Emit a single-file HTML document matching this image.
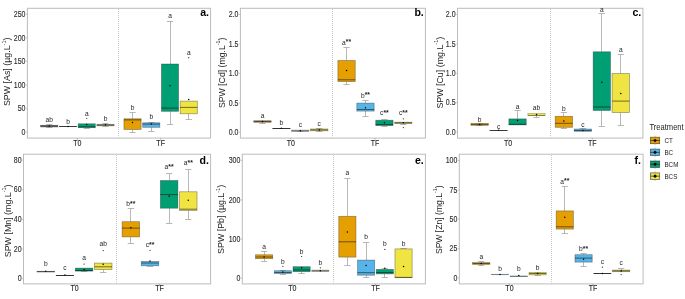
<!DOCTYPE html><html><head><meta charset="utf-8"><title>SPW boxplots</title><style>html,body{margin:0;padding:0;background:#fff;}svg{display:block;}text{font-family:"Liberation Sans", Arial, sans-serif;}</style></head><body>
<svg width="685" height="299" viewBox="0 0 685 299">
<rect x="0" y="0" width="685" height="299" fill="#fff"/>
<rect x="27.4" y="8.3" width="183.2" height="129.8" fill="none" stroke="#bcbcbc" stroke-width="1"/>
<line x1="118.5" y1="9" x2="118.5" y2="138.1" stroke="#c6c6c6" stroke-width="1" stroke-dasharray="1 1"/>
<line x1="49.5" y1="124.5" x2="49.5" y2="125.3" stroke="#a6a6a6" stroke-width="0.8"/>
<line x1="46.14" y1="124.5" x2="52.38" y2="124.5" stroke="#a6a6a6" stroke-width="0.8"/>
<line x1="49.5" y1="126.9" x2="49.5" y2="127.5" stroke="#a6a6a6" stroke-width="0.8"/>
<line x1="46.14" y1="127.5" x2="52.38" y2="127.5" stroke="#a6a6a6" stroke-width="0.8"/>
<rect x="40.68" y="125.3" width="17.15" height="1.6" fill="#8a8a8a" stroke="rgba(60,60,60,0.7)" stroke-width="0.7"/>
<line x1="40.68" y1="126.1" x2="57.84" y2="126.1" stroke="rgba(40,40,40,0.7)" stroke-width="1"/>
<circle cx="49.26" cy="126" r="0.75" fill="#000"/>
<text transform="translate(49.26,122.2) scale(0.95,1.09)" font-size="7" fill="#1c1c1c" text-anchor="middle">ab</text>
<line x1="59.12" y1="126.5" x2="76.87" y2="126.5" stroke="#3a3a3a" stroke-width="1"/>
<circle cx="68" cy="126.4" r="0.75" fill="#000"/>
<text transform="translate(68,123.6) scale(0.95,1.09)" font-size="7" fill="#1c1c1c" text-anchor="middle">b</text>
<line x1="86.5" y1="127.7" x2="86.5" y2="128.5" stroke="#a6a6a6" stroke-width="0.8"/>
<line x1="83.61" y1="128.5" x2="89.85" y2="128.5" stroke="#a6a6a6" stroke-width="0.8"/>
<rect x="78.15" y="123.8" width="17.15" height="3.9" fill="#009E73" stroke="rgba(45,45,45,0.5)" stroke-width="0.7"/>
<line x1="78.15" y1="126.8" x2="95.31" y2="126.8" stroke="rgba(20,20,20,0.58)" stroke-width="1"/>
<circle cx="86.73" cy="124.6" r="0.75" fill="#000"/>
<circle cx="86.73" cy="118.5" r="0.6" fill="#222"/>
<text transform="translate(86.73,115.9) scale(0.95,1.09)" font-size="7" fill="#1c1c1c" text-anchor="middle">a</text>
<line x1="105.5" y1="123.5" x2="105.5" y2="124.3" stroke="#a6a6a6" stroke-width="0.8"/>
<line x1="102.35" y1="123.5" x2="108.59" y2="123.5" stroke="#a6a6a6" stroke-width="0.8"/>
<line x1="105.5" y1="125.8" x2="105.5" y2="126.5" stroke="#a6a6a6" stroke-width="0.8"/>
<line x1="102.35" y1="126.5" x2="108.59" y2="126.5" stroke="#a6a6a6" stroke-width="0.8"/>
<rect x="96.89" y="124.3" width="17.15" height="1.5" fill="#c4bb80" stroke="rgba(60,60,60,0.55)" stroke-width="0.7"/>
<line x1="96.89" y1="125.1" x2="114.05" y2="125.1" stroke="rgba(20,20,20,0.58)" stroke-width="1"/>
<circle cx="105.47" cy="124.7" r="0.75" fill="#000"/>
<text transform="translate(105.47,120.6) scale(0.95,1.09)" font-size="7" fill="#1c1c1c" text-anchor="middle">b</text>
<line x1="132.5" y1="112.5" x2="132.5" y2="118.8" stroke="#a6a6a6" stroke-width="0.8"/>
<line x1="129.41" y1="112.5" x2="135.65" y2="112.5" stroke="#a6a6a6" stroke-width="0.8"/>
<line x1="132.5" y1="129.5" x2="132.5" y2="132.5" stroke="#a6a6a6" stroke-width="0.8"/>
<line x1="129.41" y1="132.5" x2="135.65" y2="132.5" stroke="#a6a6a6" stroke-width="0.8"/>
<rect x="123.95" y="118.8" width="17.15" height="10.7" fill="#E69F00" stroke="rgba(45,45,45,0.5)" stroke-width="0.7"/>
<line x1="123.95" y1="119.9" x2="141.11" y2="119.9" stroke="rgba(20,20,20,0.58)" stroke-width="1"/>
<circle cx="132.53" cy="122.5" r="0.75" fill="#000"/>
<text transform="translate(132.53,110.1) scale(0.95,1.09)" font-size="7" fill="#1c1c1c" text-anchor="middle">b</text>
<line x1="151.5" y1="122.5" x2="151.5" y2="122.8" stroke="#a6a6a6" stroke-width="0.8"/>
<line x1="148.15" y1="122.5" x2="154.39" y2="122.5" stroke="#a6a6a6" stroke-width="0.8"/>
<line x1="151.5" y1="127.3" x2="151.5" y2="131.5" stroke="#a6a6a6" stroke-width="0.8"/>
<line x1="148.15" y1="131.5" x2="154.39" y2="131.5" stroke="#a6a6a6" stroke-width="0.8"/>
<rect x="142.69" y="122.8" width="17.15" height="4.5" fill="#56B4E9" stroke="rgba(45,45,45,0.5)" stroke-width="0.7"/>
<line x1="142.69" y1="124.1" x2="159.85" y2="124.1" stroke="rgba(20,20,20,0.58)" stroke-width="1"/>
<circle cx="151.27" cy="124" r="0.75" fill="#000"/>
<text transform="translate(151.27,119.4) scale(0.95,1.09)" font-size="7" fill="#1c1c1c" text-anchor="middle">b</text>
<line x1="170.5" y1="21.5" x2="170.5" y2="64" stroke="#a6a6a6" stroke-width="0.8"/>
<line x1="166.88" y1="21.5" x2="173.13" y2="21.5" stroke="#a6a6a6" stroke-width="0.8"/>
<line x1="170.5" y1="111.3" x2="170.5" y2="124.5" stroke="#a6a6a6" stroke-width="0.8"/>
<line x1="166.88" y1="124.5" x2="173.13" y2="124.5" stroke="#a6a6a6" stroke-width="0.8"/>
<rect x="161.43" y="64" width="17.15" height="47.3" fill="#009E73" stroke="rgba(45,45,45,0.5)" stroke-width="0.7"/>
<line x1="161.43" y1="108.1" x2="178.58" y2="108.1" stroke="rgba(20,20,20,0.58)" stroke-width="1"/>
<circle cx="170" cy="85.7" r="0.75" fill="#000"/>
<text transform="translate(170,18.1) scale(0.95,1.09)" font-size="7" fill="#1c1c1c" text-anchor="middle">a</text>
<line x1="188.5" y1="113.8" x2="188.5" y2="119.5" stroke="#a6a6a6" stroke-width="0.8"/>
<line x1="185.62" y1="119.5" x2="191.86" y2="119.5" stroke="#a6a6a6" stroke-width="0.8"/>
<rect x="180.16" y="101.1" width="17.15" height="12.7" fill="#F0E442" stroke="rgba(45,45,45,0.5)" stroke-width="0.7"/>
<line x1="180.16" y1="107.4" x2="197.32" y2="107.4" stroke="rgba(20,20,20,0.58)" stroke-width="1"/>
<circle cx="188.74" cy="99.4" r="0.75" fill="#000"/>
<circle cx="188.74" cy="57.7" r="0.6" fill="#222"/>
<text transform="translate(188.74,54.6) scale(0.95,1.09)" font-size="7" fill="#1c1c1c" text-anchor="middle">a</text>
<line x1="26.1" y1="132.3" x2="27.4" y2="132.3" stroke="#a8a8a8" stroke-width="0.6"/>
<text transform="translate(25.5,134.9) scale(0.95,1.13)" font-size="7.4" fill="#2a2a2a" text-anchor="end" stroke="#2a2a2a" stroke-width="0.1">0</text>
<line x1="26.1" y1="108.7" x2="27.4" y2="108.7" stroke="#a8a8a8" stroke-width="0.6"/>
<text transform="translate(25.5,111.3) scale(0.95,1.13)" font-size="7.4" fill="#2a2a2a" text-anchor="end" stroke="#2a2a2a" stroke-width="0.1">50</text>
<line x1="26.1" y1="85.1" x2="27.4" y2="85.1" stroke="#a8a8a8" stroke-width="0.6"/>
<text transform="translate(25.5,87.7) scale(0.95,1.13)" font-size="7.4" fill="#2a2a2a" text-anchor="end" stroke="#2a2a2a" stroke-width="0.1">100</text>
<line x1="26.1" y1="61.5" x2="27.4" y2="61.5" stroke="#a8a8a8" stroke-width="0.6"/>
<text transform="translate(25.5,64.1) scale(0.95,1.13)" font-size="7.4" fill="#2a2a2a" text-anchor="end" stroke="#2a2a2a" stroke-width="0.1">150</text>
<line x1="26.1" y1="37.9" x2="27.4" y2="37.9" stroke="#a8a8a8" stroke-width="0.6"/>
<text transform="translate(25.5,40.5) scale(0.95,1.13)" font-size="7.4" fill="#2a2a2a" text-anchor="end" stroke="#2a2a2a" stroke-width="0.1">200</text>
<line x1="26.1" y1="14.3" x2="27.4" y2="14.3" stroke="#a8a8a8" stroke-width="0.6"/>
<text transform="translate(25.5,16.9) scale(0.95,1.13)" font-size="7.4" fill="#2a2a2a" text-anchor="end" stroke="#2a2a2a" stroke-width="0.1">250</text>
<line x1="77.36" y1="138.1" x2="77.36" y2="139.6" stroke="#8a8a8a" stroke-width="0.6"/>
<text transform="translate(77.36,145.6) scale(0.95,1.13)" font-size="7.4" fill="#1c1c1c" text-anchor="middle" stroke="#2a2a2a" stroke-width="0.1">T0</text>
<line x1="160.64" y1="138.1" x2="160.64" y2="139.6" stroke="#8a8a8a" stroke-width="0.6"/>
<text transform="translate(160.64,145.6) scale(0.95,1.13)" font-size="7.4" fill="#1c1c1c" text-anchor="middle" stroke="#2a2a2a" stroke-width="0.1">TF</text>
<text x="209" y="16.4" font-size="10.6" font-weight="bold" fill="#000" text-anchor="end">a.</text>
<text transform="translate(10.3,106.1) rotate(-90) scale(1.02,1)" font-size="8.7" fill="#1c1c1c">SPW [As] (µg.L<tspan font-size="5.4" dy="-4.6">-1</tspan><tspan dy="4.6">)</tspan></text>
<rect x="240.4" y="8.3" width="185" height="129.8" fill="none" stroke="#bcbcbc" stroke-width="1"/>
<line x1="332.5" y1="9" x2="332.5" y2="138.1" stroke="#c6c6c6" stroke-width="1" stroke-dasharray="1 1"/>
<line x1="262.5" y1="122.3" x2="262.5" y2="123.5" stroke="#a6a6a6" stroke-width="0.8"/>
<line x1="259.32" y1="123.5" x2="265.63" y2="123.5" stroke="#a6a6a6" stroke-width="0.8"/>
<rect x="253.81" y="120.7" width="17.32" height="1.6" fill="#c89a3a" stroke="rgba(45,45,45,0.5)" stroke-width="0.7"/>
<line x1="253.81" y1="121.5" x2="271.14" y2="121.5" stroke="rgba(20,20,20,0.58)" stroke-width="1"/>
<circle cx="262.47" cy="121.5" r="0.75" fill="#000"/>
<text transform="translate(262.47,117.8) scale(0.95,1.09)" font-size="7" fill="#1c1c1c" text-anchor="middle">a</text>
<line x1="272.43" y1="128.5" x2="290.36" y2="128.5" stroke="#333" stroke-width="1"/>
<circle cx="281.39" cy="128.3" r="0.75" fill="#000"/>
<text transform="translate(281.39,125) scale(0.95,1.09)" font-size="7" fill="#1c1c1c" text-anchor="middle">b</text>
<line x1="300.5" y1="131.4" x2="300.5" y2="131.5" stroke="#a6a6a6" stroke-width="0.8"/>
<line x1="297.16" y1="131.5" x2="303.47" y2="131.5" stroke="#a6a6a6" stroke-width="0.8"/>
<rect x="291.65" y="130.1" width="17.32" height="1.3" fill="#b4b4b4" stroke="rgba(90,90,90,0.5)" stroke-width="0.7"/>
<line x1="291.65" y1="130.8" x2="308.98" y2="130.8" stroke="rgba(60,60,60,0.5)" stroke-width="1"/>
<circle cx="300.31" cy="130.8" r="0.75" fill="#000"/>
<text transform="translate(300.31,126.7) scale(0.95,1.09)" font-size="7" fill="#1c1c1c" text-anchor="middle">c</text>
<line x1="319.5" y1="128.5" x2="319.5" y2="129" stroke="#a6a6a6" stroke-width="0.8"/>
<line x1="316.08" y1="128.5" x2="322.39" y2="128.5" stroke="#a6a6a6" stroke-width="0.8"/>
<line x1="319.5" y1="130.8" x2="319.5" y2="131.5" stroke="#a6a6a6" stroke-width="0.8"/>
<line x1="316.08" y1="131.5" x2="322.39" y2="131.5" stroke="#a6a6a6" stroke-width="0.8"/>
<rect x="310.57" y="129" width="17.32" height="1.8" fill="#F0E442" stroke="rgba(45,45,45,0.5)" stroke-width="0.7"/>
<line x1="310.57" y1="129.9" x2="327.9" y2="129.9" stroke="rgba(20,20,20,0.58)" stroke-width="1"/>
<circle cx="319.24" cy="129.9" r="0.75" fill="#000"/>
<text transform="translate(319.24,126) scale(0.95,1.09)" font-size="7" fill="#1c1c1c" text-anchor="middle">c</text>
<line x1="346.5" y1="47.5" x2="346.5" y2="60.5" stroke="#a6a6a6" stroke-width="0.8"/>
<line x1="343.41" y1="47.5" x2="349.72" y2="47.5" stroke="#a6a6a6" stroke-width="0.8"/>
<line x1="346.5" y1="81.6" x2="346.5" y2="84.5" stroke="#a6a6a6" stroke-width="0.8"/>
<line x1="343.41" y1="84.5" x2="349.72" y2="84.5" stroke="#a6a6a6" stroke-width="0.8"/>
<rect x="337.9" y="60.5" width="17.32" height="21.1" fill="#E69F00" stroke="rgba(45,45,45,0.5)" stroke-width="0.7"/>
<line x1="337.9" y1="79.8" x2="355.23" y2="79.8" stroke="rgba(20,20,20,0.58)" stroke-width="1"/>
<circle cx="346.56" cy="70.4" r="0.75" fill="#000"/>
<text transform="translate(346.56,44.5) scale(0.95,1.09)" font-size="7" fill="#1c1c1c" text-anchor="middle">a<tspan font-size="7.2" font-weight="bold" dy="-0.2">**</tspan></text>
<line x1="365.5" y1="100.5" x2="365.5" y2="103.1" stroke="#a6a6a6" stroke-width="0.8"/>
<line x1="362.33" y1="100.5" x2="368.64" y2="100.5" stroke="#a6a6a6" stroke-width="0.8"/>
<line x1="365.5" y1="111.1" x2="365.5" y2="116.5" stroke="#a6a6a6" stroke-width="0.8"/>
<line x1="362.33" y1="116.5" x2="368.64" y2="116.5" stroke="#a6a6a6" stroke-width="0.8"/>
<rect x="356.82" y="103.1" width="17.32" height="8" fill="#56B4E9" stroke="rgba(45,45,45,0.5)" stroke-width="0.7"/>
<line x1="356.82" y1="109.5" x2="374.15" y2="109.5" stroke="rgba(20,20,20,0.58)" stroke-width="1"/>
<circle cx="365.49" cy="107.7" r="0.75" fill="#000"/>
<text transform="translate(365.49,97.6) scale(0.95,1.09)" font-size="7" fill="#1c1c1c" text-anchor="middle">b<tspan font-size="7.2" font-weight="bold" dy="-0.2">**</tspan></text>
<line x1="384.5" y1="119.5" x2="384.5" y2="120.2" stroke="#a6a6a6" stroke-width="0.8"/>
<line x1="381.25" y1="119.5" x2="387.56" y2="119.5" stroke="#a6a6a6" stroke-width="0.8"/>
<line x1="384.5" y1="125.6" x2="384.5" y2="126.5" stroke="#a6a6a6" stroke-width="0.8"/>
<line x1="381.25" y1="126.5" x2="387.56" y2="126.5" stroke="#a6a6a6" stroke-width="0.8"/>
<rect x="375.74" y="120.2" width="17.32" height="5.4" fill="#009E73" stroke="rgba(45,45,45,0.5)" stroke-width="0.7"/>
<line x1="375.74" y1="124.6" x2="393.07" y2="124.6" stroke="rgba(20,20,20,0.58)" stroke-width="1"/>
<circle cx="384.41" cy="122.8" r="0.75" fill="#000"/>
<text transform="translate(384.41,114.9) scale(0.95,1.09)" font-size="7" fill="#1c1c1c" text-anchor="middle">c<tspan font-size="7.2" font-weight="bold" dy="-0.2">**</tspan></text>
<line x1="403.5" y1="123.6" x2="403.5" y2="124.5" stroke="#a6a6a6" stroke-width="0.8"/>
<line x1="400.17" y1="124.5" x2="406.48" y2="124.5" stroke="#a6a6a6" stroke-width="0.8"/>
<rect x="394.66" y="122.2" width="17.32" height="1.4" fill="#F0E442" stroke="rgba(45,45,45,0.5)" stroke-width="0.7"/>
<line x1="394.66" y1="122.8" x2="411.99" y2="122.8" stroke="rgba(20,20,20,0.58)" stroke-width="1"/>
<circle cx="403.33" cy="122.8" r="0.75" fill="#000"/>
<circle cx="403.33" cy="118.8" r="0.6" fill="#222"/>
<circle cx="403.33" cy="127.6" r="0.6" fill="#222"/>
<text transform="translate(403.33,115.3) scale(0.95,1.09)" font-size="7" fill="#1c1c1c" text-anchor="middle">c<tspan font-size="7.2" font-weight="bold" dy="-0.2">**</tspan></text>
<line x1="239.1" y1="132.3" x2="240.4" y2="132.3" stroke="#a8a8a8" stroke-width="0.6"/>
<text transform="translate(238.5,134.9) scale(0.95,1.13)" font-size="7.4" fill="#2a2a2a" text-anchor="end" stroke="#2a2a2a" stroke-width="0.1">0.0</text>
<line x1="239.1" y1="102.9" x2="240.4" y2="102.9" stroke="#a8a8a8" stroke-width="0.6"/>
<text transform="translate(238.5,105.5) scale(0.95,1.13)" font-size="7.4" fill="#2a2a2a" text-anchor="end" stroke="#2a2a2a" stroke-width="0.1">0.5</text>
<line x1="239.1" y1="73.4" x2="240.4" y2="73.4" stroke="#a8a8a8" stroke-width="0.6"/>
<text transform="translate(238.5,76) scale(0.95,1.13)" font-size="7.4" fill="#2a2a2a" text-anchor="end" stroke="#2a2a2a" stroke-width="0.1">1.0</text>
<line x1="239.1" y1="44" x2="240.4" y2="44" stroke="#a8a8a8" stroke-width="0.6"/>
<text transform="translate(238.5,46.6) scale(0.95,1.13)" font-size="7.4" fill="#2a2a2a" text-anchor="end" stroke="#2a2a2a" stroke-width="0.1">1.5</text>
<line x1="239.1" y1="14.5" x2="240.4" y2="14.5" stroke="#a8a8a8" stroke-width="0.6"/>
<text transform="translate(238.5,17.1) scale(0.95,1.13)" font-size="7.4" fill="#2a2a2a" text-anchor="end" stroke="#2a2a2a" stroke-width="0.1">2.0</text>
<line x1="290.85" y1="138.1" x2="290.85" y2="139.6" stroke="#8a8a8a" stroke-width="0.6"/>
<text transform="translate(290.85,145.6) scale(0.95,1.13)" font-size="7.4" fill="#1c1c1c" text-anchor="middle" stroke="#2a2a2a" stroke-width="0.1">T0</text>
<line x1="374.95" y1="138.1" x2="374.95" y2="139.6" stroke="#8a8a8a" stroke-width="0.6"/>
<text transform="translate(374.95,145.6) scale(0.95,1.13)" font-size="7.4" fill="#1c1c1c" text-anchor="middle" stroke="#2a2a2a" stroke-width="0.1">TF</text>
<text x="423.8" y="16.4" font-size="10.6" font-weight="bold" fill="#000" text-anchor="end">b.</text>
<text transform="translate(224.6,108) rotate(-90) scale(1,1)" font-size="8.7" fill="#1c1c1c">SPW [Cd] (mg.L<tspan font-size="5.4" dy="-4.6">-1</tspan><tspan dy="4.6">)</tspan></text>
<rect x="457.5" y="8.3" width="185.4" height="129.8" fill="none" stroke="#bcbcbc" stroke-width="1"/>
<line x1="550.5" y1="9" x2="550.5" y2="138.1" stroke="#c6c6c6" stroke-width="1" stroke-dasharray="1 1"/>
<line x1="479.5" y1="123.5" x2="479.5" y2="123.5" stroke="#a6a6a6" stroke-width="0.8"/>
<line x1="476.46" y1="123.5" x2="482.78" y2="123.5" stroke="#a6a6a6" stroke-width="0.8"/>
<line x1="479.5" y1="125.3" x2="479.5" y2="125.5" stroke="#a6a6a6" stroke-width="0.8"/>
<line x1="476.46" y1="125.5" x2="482.78" y2="125.5" stroke="#a6a6a6" stroke-width="0.8"/>
<rect x="470.94" y="123.5" width="17.36" height="1.8" fill="#E69F00" stroke="rgba(45,45,45,0.5)" stroke-width="0.7"/>
<line x1="470.94" y1="124.4" x2="488.3" y2="124.4" stroke="rgba(20,20,20,0.58)" stroke-width="1"/>
<circle cx="479.62" cy="124.4" r="0.75" fill="#000"/>
<text transform="translate(479.62,122.3) scale(0.95,1.09)" font-size="7" fill="#1c1c1c" text-anchor="middle">b</text>
<line x1="489.6" y1="130.5" x2="507.56" y2="130.5" stroke="#3a3a3a" stroke-width="1"/>
<circle cx="498.58" cy="130.3" r="0.75" fill="#000"/>
<text transform="translate(498.58,129.2) scale(0.95,1.09)" font-size="7" fill="#1c1c1c" text-anchor="middle">c</text>
<line x1="517.5" y1="110.5" x2="517.5" y2="118.9" stroke="#a6a6a6" stroke-width="0.8"/>
<line x1="514.38" y1="110.5" x2="520.7" y2="110.5" stroke="#a6a6a6" stroke-width="0.8"/>
<rect x="508.86" y="118.9" width="17.36" height="6" fill="#009E73" stroke="rgba(45,45,45,0.5)" stroke-width="0.7"/>
<line x1="508.86" y1="124.3" x2="526.22" y2="124.3" stroke="rgba(20,20,20,0.58)" stroke-width="1"/>
<circle cx="517.54" cy="120.4" r="0.75" fill="#000"/>
<text transform="translate(517.54,109.2) scale(0.95,1.09)" font-size="7" fill="#1c1c1c" text-anchor="middle">a</text>
<line x1="536.5" y1="115.5" x2="536.5" y2="117.5" stroke="#a6a6a6" stroke-width="0.8"/>
<line x1="533.35" y1="117.5" x2="539.67" y2="117.5" stroke="#a6a6a6" stroke-width="0.8"/>
<rect x="527.83" y="113.3" width="17.36" height="2.2" fill="#f0e442" stroke="rgba(45,45,45,0.35)" stroke-width="0.7"/>
<line x1="527.83" y1="115.5" x2="545.19" y2="115.5" stroke="rgba(20,20,20,0.4)" stroke-width="1"/>
<circle cx="536.51" cy="114.5" r="0.75" fill="#000"/>
<text transform="translate(536.51,110.4) scale(0.95,1.09)" font-size="7" fill="#1c1c1c" text-anchor="middle">ab</text>
<line x1="563.5" y1="112.5" x2="563.5" y2="116.3" stroke="#a6a6a6" stroke-width="0.8"/>
<line x1="560.73" y1="112.5" x2="567.05" y2="112.5" stroke="#a6a6a6" stroke-width="0.8"/>
<line x1="563.5" y1="127.3" x2="563.5" y2="128.5" stroke="#a6a6a6" stroke-width="0.8"/>
<line x1="560.73" y1="128.5" x2="567.05" y2="128.5" stroke="#a6a6a6" stroke-width="0.8"/>
<rect x="555.21" y="116.3" width="17.36" height="11" fill="#E69F00" stroke="rgba(45,45,45,0.5)" stroke-width="0.7"/>
<line x1="555.21" y1="123.3" x2="572.57" y2="123.3" stroke="rgba(20,20,20,0.58)" stroke-width="1"/>
<circle cx="563.89" cy="121" r="0.75" fill="#000"/>
<text transform="translate(563.89,111) scale(0.95,1.09)" font-size="7" fill="#1c1c1c" text-anchor="middle">b</text>
<line x1="582.5" y1="128.5" x2="582.5" y2="129" stroke="#a6a6a6" stroke-width="0.8"/>
<line x1="579.7" y1="128.5" x2="586.02" y2="128.5" stroke="#a6a6a6" stroke-width="0.8"/>
<rect x="574.18" y="129" width="17.36" height="2.3" fill="#56B4E9" stroke="rgba(45,45,45,0.5)" stroke-width="0.7"/>
<line x1="574.18" y1="130.5" x2="591.54" y2="130.5" stroke="rgba(20,20,20,0.58)" stroke-width="1"/>
<circle cx="582.86" cy="130.5" r="0.75" fill="#000"/>
<text transform="translate(582.86,127.3) scale(0.95,1.09)" font-size="7" fill="#1c1c1c" text-anchor="middle">c</text>
<line x1="601.5" y1="13.5" x2="601.5" y2="51.8" stroke="#a6a6a6" stroke-width="0.8"/>
<line x1="598.66" y1="13.5" x2="604.98" y2="13.5" stroke="#a6a6a6" stroke-width="0.8"/>
<line x1="601.5" y1="110.5" x2="601.5" y2="126.5" stroke="#a6a6a6" stroke-width="0.8"/>
<line x1="598.66" y1="126.5" x2="604.98" y2="126.5" stroke="#a6a6a6" stroke-width="0.8"/>
<rect x="593.14" y="51.8" width="17.36" height="58.7" fill="#009E73" stroke="rgba(45,45,45,0.5)" stroke-width="0.7"/>
<line x1="593.14" y1="107" x2="610.5" y2="107" stroke="rgba(20,20,20,0.58)" stroke-width="1"/>
<circle cx="601.82" cy="82.2" r="0.75" fill="#000"/>
<text transform="translate(601.82,11.9) scale(0.95,1.09)" font-size="7" fill="#1c1c1c" text-anchor="middle">a</text>
<line x1="620.5" y1="54.5" x2="620.5" y2="73.5" stroke="#a6a6a6" stroke-width="0.8"/>
<line x1="617.62" y1="54.5" x2="623.94" y2="54.5" stroke="#a6a6a6" stroke-width="0.8"/>
<line x1="620.5" y1="112.6" x2="620.5" y2="125.5" stroke="#a6a6a6" stroke-width="0.8"/>
<line x1="617.62" y1="125.5" x2="623.94" y2="125.5" stroke="#a6a6a6" stroke-width="0.8"/>
<rect x="612.1" y="73.5" width="17.36" height="39.1" fill="#F0E442" stroke="rgba(45,45,45,0.5)" stroke-width="0.7"/>
<line x1="612.1" y1="101.1" x2="629.46" y2="101.1" stroke="rgba(20,20,20,0.58)" stroke-width="1"/>
<circle cx="620.78" cy="93.4" r="0.75" fill="#000"/>
<text transform="translate(620.78,52.4) scale(0.95,1.09)" font-size="7" fill="#1c1c1c" text-anchor="middle">a</text>
<line x1="456.2" y1="131.9" x2="457.5" y2="131.9" stroke="#a8a8a8" stroke-width="0.6"/>
<text transform="translate(455.6,134.5) scale(0.95,1.13)" font-size="7.4" fill="#2a2a2a" text-anchor="end" stroke="#2a2a2a" stroke-width="0.1">0.0</text>
<line x1="456.2" y1="102.7" x2="457.5" y2="102.7" stroke="#a8a8a8" stroke-width="0.6"/>
<text transform="translate(455.6,105.3) scale(0.95,1.13)" font-size="7.4" fill="#2a2a2a" text-anchor="end" stroke="#2a2a2a" stroke-width="0.1">0.5</text>
<line x1="456.2" y1="73.5" x2="457.5" y2="73.5" stroke="#a8a8a8" stroke-width="0.6"/>
<text transform="translate(455.6,76.1) scale(0.95,1.13)" font-size="7.4" fill="#2a2a2a" text-anchor="end" stroke="#2a2a2a" stroke-width="0.1">1.0</text>
<line x1="456.2" y1="44" x2="457.5" y2="44" stroke="#a8a8a8" stroke-width="0.6"/>
<text transform="translate(455.6,46.6) scale(0.95,1.13)" font-size="7.4" fill="#2a2a2a" text-anchor="end" stroke="#2a2a2a" stroke-width="0.1">1.5</text>
<line x1="456.2" y1="14.5" x2="457.5" y2="14.5" stroke="#a8a8a8" stroke-width="0.6"/>
<text transform="translate(455.6,17.1) scale(0.95,1.13)" font-size="7.4" fill="#2a2a2a" text-anchor="end" stroke="#2a2a2a" stroke-width="0.1">2.0</text>
<line x1="508.06" y1="138.1" x2="508.06" y2="139.6" stroke="#8a8a8a" stroke-width="0.6"/>
<text transform="translate(508.06,145.6) scale(0.95,1.13)" font-size="7.4" fill="#1c1c1c" text-anchor="middle" stroke="#2a2a2a" stroke-width="0.1">T0</text>
<line x1="592.34" y1="138.1" x2="592.34" y2="139.6" stroke="#8a8a8a" stroke-width="0.6"/>
<text transform="translate(592.34,145.6) scale(0.95,1.13)" font-size="7.4" fill="#1c1c1c" text-anchor="middle" stroke="#2a2a2a" stroke-width="0.1">TF</text>
<text x="641.3" y="16.4" font-size="10.6" font-weight="bold" fill="#000" text-anchor="end">c.</text>
<text transform="translate(442.6,108.6) rotate(-90) scale(1.02,1)" font-size="8.7" fill="#1c1c1c">SPW [Cu] (mg.L<tspan font-size="5.4" dy="-4.6">-1</tspan><tspan dy="4.6">)</tspan></text>
<rect x="23.5" y="154.2" width="187.1" height="129.7" fill="none" stroke="#bcbcbc" stroke-width="1"/>
<line x1="116.5" y1="155" x2="116.5" y2="283.9" stroke="#c6c6c6" stroke-width="1" stroke-dasharray="1 1"/>
<line x1="36.76" y1="271.6" x2="54.88" y2="271.6" stroke="#505050" stroke-width="1.3"/>
<circle cx="45.82" cy="271.3" r="0.75" fill="#000"/>
<text transform="translate(45.82,265.9) scale(0.95,1.09)" font-size="7" fill="#1c1c1c" text-anchor="middle">b</text>
<line x1="55.9" y1="275.5" x2="74.02" y2="275.5" stroke="#333" stroke-width="1"/>
<circle cx="64.96" cy="275.1" r="0.75" fill="#000"/>
<text transform="translate(64.96,269.6) scale(0.95,1.09)" font-size="7" fill="#1c1c1c" text-anchor="middle">c</text>
<line x1="84.5" y1="271.1" x2="84.5" y2="271.5" stroke="#a6a6a6" stroke-width="0.8"/>
<line x1="80.91" y1="271.5" x2="87.28" y2="271.5" stroke="#a6a6a6" stroke-width="0.8"/>
<rect x="75.34" y="268.1" width="17.52" height="3" fill="#009E73" stroke="rgba(45,45,45,0.5)" stroke-width="0.7"/>
<line x1="75.34" y1="270.5" x2="92.85" y2="270.5" stroke="rgba(20,20,20,0.58)" stroke-width="1"/>
<circle cx="84.09" cy="269.5" r="0.75" fill="#000"/>
<circle cx="84.09" cy="264.1" r="0.6" fill="#222"/>
<text transform="translate(84.09,259.8) scale(0.95,1.09)" font-size="7" fill="#1c1c1c" text-anchor="middle">a</text>
<line x1="103.5" y1="269.6" x2="103.5" y2="272.5" stroke="#a6a6a6" stroke-width="0.8"/>
<line x1="100.04" y1="272.5" x2="106.42" y2="272.5" stroke="#a6a6a6" stroke-width="0.8"/>
<rect x="94.47" y="263.1" width="17.52" height="6.5" fill="#F0E442" stroke="rgba(45,45,45,0.5)" stroke-width="0.7"/>
<line x1="94.47" y1="266.8" x2="111.99" y2="266.8" stroke="rgba(20,20,20,0.58)" stroke-width="1"/>
<circle cx="103.23" cy="264.2" r="0.75" fill="#000"/>
<circle cx="103.23" cy="250.6" r="0.6" fill="#222"/>
<text transform="translate(103.23,246.2) scale(0.95,1.09)" font-size="7" fill="#1c1c1c" text-anchor="middle">ab</text>
<line x1="130.5" y1="208.5" x2="130.5" y2="221.7" stroke="#a6a6a6" stroke-width="0.8"/>
<line x1="127.68" y1="208.5" x2="134.06" y2="208.5" stroke="#a6a6a6" stroke-width="0.8"/>
<line x1="130.5" y1="236.9" x2="130.5" y2="243.5" stroke="#a6a6a6" stroke-width="0.8"/>
<line x1="127.68" y1="243.5" x2="134.06" y2="243.5" stroke="#a6a6a6" stroke-width="0.8"/>
<rect x="122.11" y="221.7" width="17.52" height="15.2" fill="#E69F00" stroke="rgba(45,45,45,0.5)" stroke-width="0.7"/>
<line x1="122.11" y1="228.1" x2="139.63" y2="228.1" stroke="rgba(20,20,20,0.58)" stroke-width="1"/>
<circle cx="130.87" cy="227.8" r="0.75" fill="#000"/>
<text transform="translate(130.87,205.9) scale(0.95,1.09)" font-size="7" fill="#1c1c1c" text-anchor="middle">b<tspan font-size="7.2" font-weight="bold" dy="-0.2">**</tspan></text>
<line x1="150.5" y1="265.8" x2="150.5" y2="266.5" stroke="#a6a6a6" stroke-width="0.8"/>
<line x1="146.82" y1="266.5" x2="153.19" y2="266.5" stroke="#a6a6a6" stroke-width="0.8"/>
<rect x="141.25" y="261.5" width="17.52" height="4.3" fill="#56B4E9" stroke="rgba(45,45,45,0.5)" stroke-width="0.7"/>
<line x1="141.25" y1="263" x2="158.76" y2="263" stroke="rgba(20,20,20,0.58)" stroke-width="1"/>
<circle cx="150.01" cy="261" r="0.75" fill="#000"/>
<circle cx="150.01" cy="250.3" r="0.6" fill="#222"/>
<text transform="translate(150.01,246.9) scale(0.95,1.09)" font-size="7" fill="#1c1c1c" text-anchor="middle">c<tspan font-size="7.2" font-weight="bold" dy="-0.2">**</tspan></text>
<line x1="169.5" y1="173.5" x2="169.5" y2="180.5" stroke="#a6a6a6" stroke-width="0.8"/>
<line x1="165.95" y1="173.5" x2="172.33" y2="173.5" stroke="#a6a6a6" stroke-width="0.8"/>
<line x1="169.5" y1="208.2" x2="169.5" y2="223.5" stroke="#a6a6a6" stroke-width="0.8"/>
<line x1="165.95" y1="223.5" x2="172.33" y2="223.5" stroke="#a6a6a6" stroke-width="0.8"/>
<rect x="160.38" y="180.5" width="17.52" height="27.7" fill="#009E73" stroke="rgba(45,45,45,0.5)" stroke-width="0.7"/>
<line x1="160.38" y1="194.6" x2="177.9" y2="194.6" stroke="rgba(20,20,20,0.58)" stroke-width="1"/>
<circle cx="169.14" cy="196.2" r="0.75" fill="#000"/>
<text transform="translate(169.14,169.3) scale(0.95,1.09)" font-size="7" fill="#1c1c1c" text-anchor="middle">a<tspan font-size="7.2" font-weight="bold" dy="-0.2">**</tspan></text>
<line x1="188.5" y1="169.5" x2="188.5" y2="191.8" stroke="#a6a6a6" stroke-width="0.8"/>
<line x1="185.09" y1="169.5" x2="191.46" y2="169.5" stroke="#a6a6a6" stroke-width="0.8"/>
<line x1="188.5" y1="210.4" x2="188.5" y2="219.5" stroke="#a6a6a6" stroke-width="0.8"/>
<line x1="185.09" y1="219.5" x2="191.46" y2="219.5" stroke="#a6a6a6" stroke-width="0.8"/>
<rect x="179.52" y="191.8" width="17.52" height="18.6" fill="#F0E442" stroke="rgba(45,45,45,0.5)" stroke-width="0.7"/>
<line x1="179.52" y1="209.2" x2="197.04" y2="209.2" stroke="rgba(20,20,20,0.58)" stroke-width="1"/>
<circle cx="188.28" cy="200.2" r="0.75" fill="#000"/>
<text transform="translate(188.28,165.3) scale(0.95,1.09)" font-size="7" fill="#1c1c1c" text-anchor="middle">a<tspan font-size="7.2" font-weight="bold" dy="-0.2">**</tspan></text>
<line x1="22.2" y1="278.7" x2="23.5" y2="278.7" stroke="#a8a8a8" stroke-width="0.6"/>
<text transform="translate(21.6,281.3) scale(0.95,1.13)" font-size="7.4" fill="#2a2a2a" text-anchor="end" stroke="#2a2a2a" stroke-width="0.1">0</text>
<line x1="22.2" y1="249.05" x2="23.5" y2="249.05" stroke="#a8a8a8" stroke-width="0.6"/>
<text transform="translate(21.6,251.65) scale(0.95,1.13)" font-size="7.4" fill="#2a2a2a" text-anchor="end" stroke="#2a2a2a" stroke-width="0.1">20</text>
<line x1="22.2" y1="219.4" x2="23.5" y2="219.4" stroke="#a8a8a8" stroke-width="0.6"/>
<text transform="translate(21.6,222) scale(0.95,1.13)" font-size="7.4" fill="#2a2a2a" text-anchor="end" stroke="#2a2a2a" stroke-width="0.1">40</text>
<line x1="22.2" y1="189.75" x2="23.5" y2="189.75" stroke="#a8a8a8" stroke-width="0.6"/>
<text transform="translate(21.6,192.35) scale(0.95,1.13)" font-size="7.4" fill="#2a2a2a" text-anchor="end" stroke="#2a2a2a" stroke-width="0.1">60</text>
<line x1="22.2" y1="160.1" x2="23.5" y2="160.1" stroke="#a8a8a8" stroke-width="0.6"/>
<text transform="translate(21.6,162.7) scale(0.95,1.13)" font-size="7.4" fill="#2a2a2a" text-anchor="end" stroke="#2a2a2a" stroke-width="0.1">80</text>
<line x1="74.53" y1="283.9" x2="74.53" y2="285.4" stroke="#8a8a8a" stroke-width="0.6"/>
<text transform="translate(74.53,291.4) scale(0.95,1.13)" font-size="7.4" fill="#1c1c1c" text-anchor="middle" stroke="#2a2a2a" stroke-width="0.1">T0</text>
<line x1="159.57" y1="283.9" x2="159.57" y2="285.4" stroke="#8a8a8a" stroke-width="0.6"/>
<text transform="translate(159.57,291.4) scale(0.95,1.13)" font-size="7.4" fill="#1c1c1c" text-anchor="middle" stroke="#2a2a2a" stroke-width="0.1">TF</text>
<text x="209" y="163.6" font-size="10.6" font-weight="bold" fill="#000" text-anchor="end">d.</text>
<text transform="translate(10.5,257.2) rotate(-90) scale(1.02,1)" font-size="8.7" fill="#1c1c1c">SPW [Mn] (mg.L<tspan font-size="5.4" dy="-4.6">-1</tspan><tspan dy="4.6">)</tspan></text>
<rect x="242.3" y="154.2" width="183.1" height="129.7" fill="none" stroke="#bcbcbc" stroke-width="1"/>
<line x1="333.5" y1="155" x2="333.5" y2="283.9" stroke="#c6c6c6" stroke-width="1" stroke-dasharray="1 1"/>
<line x1="264.5" y1="251.5" x2="264.5" y2="254.8" stroke="#a6a6a6" stroke-width="0.8"/>
<line x1="261.03" y1="251.5" x2="267.27" y2="251.5" stroke="#a6a6a6" stroke-width="0.8"/>
<line x1="264.5" y1="258.7" x2="264.5" y2="261.5" stroke="#a6a6a6" stroke-width="0.8"/>
<line x1="261.03" y1="261.5" x2="267.27" y2="261.5" stroke="#a6a6a6" stroke-width="0.8"/>
<rect x="255.57" y="254.8" width="17.14" height="3.9" fill="#E69F00" stroke="rgba(45,45,45,0.5)" stroke-width="0.7"/>
<line x1="255.57" y1="257" x2="272.72" y2="257" stroke="rgba(20,20,20,0.58)" stroke-width="1"/>
<circle cx="264.15" cy="257" r="0.75" fill="#000"/>
<text transform="translate(264.15,248.5) scale(0.95,1.09)" font-size="7" fill="#1c1c1c" text-anchor="middle">a</text>
<line x1="282.5" y1="270.5" x2="282.5" y2="270.7" stroke="#a6a6a6" stroke-width="0.8"/>
<line x1="279.75" y1="270.5" x2="285.99" y2="270.5" stroke="#a6a6a6" stroke-width="0.8"/>
<line x1="282.5" y1="273.5" x2="282.5" y2="274.5" stroke="#a6a6a6" stroke-width="0.8"/>
<line x1="279.75" y1="274.5" x2="285.99" y2="274.5" stroke="#a6a6a6" stroke-width="0.8"/>
<rect x="274.3" y="270.7" width="17.14" height="2.8" fill="#56B4E9" stroke="rgba(45,45,45,0.5)" stroke-width="0.7"/>
<line x1="274.3" y1="272.5" x2="291.45" y2="272.5" stroke="rgba(20,20,20,0.58)" stroke-width="1"/>
<circle cx="282.87" cy="272" r="0.75" fill="#000"/>
<circle cx="282.87" cy="266.3" r="0.6" fill="#222"/>
<text transform="translate(282.87,263.8) scale(0.95,1.09)" font-size="7" fill="#1c1c1c" text-anchor="middle">b</text>
<line x1="301.5" y1="271.7" x2="301.5" y2="273.5" stroke="#a6a6a6" stroke-width="0.8"/>
<line x1="298.48" y1="273.5" x2="304.72" y2="273.5" stroke="#a6a6a6" stroke-width="0.8"/>
<rect x="293.03" y="266.7" width="17.14" height="5" fill="#009E73" stroke="rgba(45,45,45,0.5)" stroke-width="0.7"/>
<line x1="293.03" y1="270" x2="310.17" y2="270" stroke="rgba(20,20,20,0.58)" stroke-width="1"/>
<circle cx="301.6" cy="267.8" r="0.75" fill="#000"/>
<circle cx="301.6" cy="256.5" r="0.6" fill="#222"/>
<text transform="translate(301.6,254) scale(0.95,1.09)" font-size="7" fill="#1c1c1c" text-anchor="middle">b</text>
<rect x="311.75" y="270.1" width="17.14" height="1.4" fill="#b9b68f" stroke="rgba(90,90,90,0.5)" stroke-width="0.7"/>
<line x1="311.75" y1="270.8" x2="328.9" y2="270.8" stroke="rgba(60,60,60,0.5)" stroke-width="1"/>
<circle cx="320.33" cy="270.8" r="0.75" fill="#000"/>
<circle cx="320.33" cy="267.8" r="0.6" fill="#222"/>
<text transform="translate(320.33,264.9) scale(0.95,1.09)" font-size="7" fill="#1c1c1c" text-anchor="middle">b</text>
<line x1="347.5" y1="178.5" x2="347.5" y2="216.3" stroke="#a6a6a6" stroke-width="0.8"/>
<line x1="344.25" y1="178.5" x2="350.5" y2="178.5" stroke="#a6a6a6" stroke-width="0.8"/>
<line x1="347.5" y1="257.1" x2="347.5" y2="265.5" stroke="#a6a6a6" stroke-width="0.8"/>
<line x1="344.25" y1="265.5" x2="350.5" y2="265.5" stroke="#a6a6a6" stroke-width="0.8"/>
<rect x="338.8" y="216.3" width="17.14" height="40.8" fill="#E69F00" stroke="rgba(45,45,45,0.5)" stroke-width="0.7"/>
<line x1="338.8" y1="241.8" x2="355.95" y2="241.8" stroke="rgba(20,20,20,0.58)" stroke-width="1"/>
<circle cx="347.37" cy="232.1" r="0.75" fill="#000"/>
<text transform="translate(347.37,175.1) scale(0.95,1.09)" font-size="7" fill="#1c1c1c" text-anchor="middle">a</text>
<line x1="366.5" y1="242.5" x2="366.5" y2="260.1" stroke="#a6a6a6" stroke-width="0.8"/>
<line x1="362.98" y1="242.5" x2="369.22" y2="242.5" stroke="#a6a6a6" stroke-width="0.8"/>
<line x1="366.5" y1="275.2" x2="366.5" y2="277.5" stroke="#a6a6a6" stroke-width="0.8"/>
<line x1="362.98" y1="277.5" x2="369.22" y2="277.5" stroke="#a6a6a6" stroke-width="0.8"/>
<rect x="357.53" y="260.1" width="17.14" height="15.1" fill="#56B4E9" stroke="rgba(45,45,45,0.5)" stroke-width="0.7"/>
<line x1="357.53" y1="272.7" x2="374.67" y2="272.7" stroke="rgba(20,20,20,0.58)" stroke-width="1"/>
<circle cx="366.1" cy="265.4" r="0.75" fill="#000"/>
<text transform="translate(366.1,238.8) scale(0.95,1.09)" font-size="7" fill="#1c1c1c" text-anchor="middle">b</text>
<line x1="384.5" y1="268.5" x2="384.5" y2="269.4" stroke="#a6a6a6" stroke-width="0.8"/>
<line x1="381.71" y1="268.5" x2="387.95" y2="268.5" stroke="#a6a6a6" stroke-width="0.8"/>
<line x1="384.5" y1="273.9" x2="384.5" y2="277.5" stroke="#a6a6a6" stroke-width="0.8"/>
<line x1="381.71" y1="277.5" x2="387.95" y2="277.5" stroke="#a6a6a6" stroke-width="0.8"/>
<rect x="376.25" y="269.4" width="17.14" height="4.5" fill="#009E73" stroke="rgba(45,45,45,0.5)" stroke-width="0.7"/>
<line x1="376.25" y1="272.5" x2="393.4" y2="272.5" stroke="rgba(20,20,20,0.58)" stroke-width="1"/>
<circle cx="384.83" cy="268.2" r="0.75" fill="#000"/>
<circle cx="384.83" cy="249.4" r="0.6" fill="#222"/>
<text transform="translate(384.83,245.8) scale(0.95,1.09)" font-size="7" fill="#1c1c1c" text-anchor="middle">b</text>
<line x1="403.5" y1="248.5" x2="403.5" y2="248.9" stroke="#a6a6a6" stroke-width="0.8"/>
<line x1="400.43" y1="248.5" x2="406.67" y2="248.5" stroke="#a6a6a6" stroke-width="0.8"/>
<rect x="394.98" y="248.9" width="17.14" height="28.8" fill="#F0E442" stroke="rgba(45,45,45,0.5)" stroke-width="0.7"/>
<line x1="394.98" y1="277.4" x2="412.13" y2="277.4" stroke="rgba(20,20,20,0.58)" stroke-width="1"/>
<circle cx="403.55" cy="266.4" r="0.75" fill="#000"/>
<text transform="translate(403.55,245.6) scale(0.95,1.09)" font-size="7" fill="#1c1c1c" text-anchor="middle">b</text>
<line x1="241" y1="278.3" x2="242.3" y2="278.3" stroke="#a8a8a8" stroke-width="0.6"/>
<text transform="translate(240.4,280.9) scale(0.95,1.13)" font-size="7.4" fill="#2a2a2a" text-anchor="end" stroke="#2a2a2a" stroke-width="0.1">0</text>
<line x1="241" y1="239.1" x2="242.3" y2="239.1" stroke="#a8a8a8" stroke-width="0.6"/>
<text transform="translate(240.4,241.7) scale(0.95,1.13)" font-size="7.4" fill="#2a2a2a" text-anchor="end" stroke="#2a2a2a" stroke-width="0.1">100</text>
<line x1="241" y1="199.9" x2="242.3" y2="199.9" stroke="#a8a8a8" stroke-width="0.6"/>
<text transform="translate(240.4,202.5) scale(0.95,1.13)" font-size="7.4" fill="#2a2a2a" text-anchor="end" stroke="#2a2a2a" stroke-width="0.1">200</text>
<line x1="241" y1="160.6" x2="242.3" y2="160.6" stroke="#a8a8a8" stroke-width="0.6"/>
<text transform="translate(240.4,163.2) scale(0.95,1.13)" font-size="7.4" fill="#2a2a2a" text-anchor="end" stroke="#2a2a2a" stroke-width="0.1">300</text>
<line x1="292.24" y1="283.9" x2="292.24" y2="285.4" stroke="#8a8a8a" stroke-width="0.6"/>
<text transform="translate(292.24,291.4) scale(0.95,1.13)" font-size="7.4" fill="#1c1c1c" text-anchor="middle" stroke="#2a2a2a" stroke-width="0.1">T0</text>
<line x1="375.46" y1="283.9" x2="375.46" y2="285.4" stroke="#8a8a8a" stroke-width="0.6"/>
<text transform="translate(375.46,291.4) scale(0.95,1.13)" font-size="7.4" fill="#1c1c1c" text-anchor="middle" stroke="#2a2a2a" stroke-width="0.1">TF</text>
<text x="423.8" y="163.6" font-size="10.6" font-weight="bold" fill="#000" text-anchor="end">e.</text>
<text transform="translate(224.3,253.9) rotate(-90) scale(1.02,1)" font-size="8.7" fill="#1c1c1c">SPW [Pb] (µg.L<tspan font-size="5.4" dy="-4.6">-1</tspan><tspan dy="4.6">)</tspan></text>
<rect x="459.3" y="154.2" width="183.8" height="129.7" fill="none" stroke="#bcbcbc" stroke-width="1"/>
<line x1="551.5" y1="155" x2="551.5" y2="283.9" stroke="#c6c6c6" stroke-width="1" stroke-dasharray="1 1"/>
<line x1="481.5" y1="261.5" x2="481.5" y2="262.6" stroke="#a6a6a6" stroke-width="0.8"/>
<line x1="478.1" y1="261.5" x2="484.36" y2="261.5" stroke="#a6a6a6" stroke-width="0.8"/>
<line x1="481.5" y1="264.4" x2="481.5" y2="265.5" stroke="#a6a6a6" stroke-width="0.8"/>
<line x1="478.1" y1="265.5" x2="484.36" y2="265.5" stroke="#a6a6a6" stroke-width="0.8"/>
<rect x="472.63" y="262.6" width="17.21" height="1.8" fill="#E69F00" stroke="rgba(45,45,45,0.5)" stroke-width="0.7"/>
<line x1="472.63" y1="263.5" x2="489.84" y2="263.5" stroke="rgba(20,20,20,0.58)" stroke-width="1"/>
<circle cx="481.23" cy="263.5" r="0.75" fill="#000"/>
<text transform="translate(481.23,259.1) scale(0.95,1.09)" font-size="7" fill="#1c1c1c" text-anchor="middle">a</text>
<line x1="491.12" y1="274.5" x2="508.93" y2="274.5" stroke="#6f8898" stroke-width="1.1"/>
<circle cx="500.03" cy="274.6" r="0.75" fill="#000"/>
<text transform="translate(500.03,270.9) scale(0.95,1.09)" font-size="7" fill="#1c1c1c" text-anchor="middle">b</text>
<line x1="509.92" y1="276.3" x2="527.73" y2="276.3" stroke="#4a6a5a" stroke-width="1.1"/>
<circle cx="518.83" cy="275.6" r="0.75" fill="#000"/>
<text transform="translate(518.83,270.9) scale(0.95,1.09)" font-size="7" fill="#1c1c1c" text-anchor="middle">b</text>
<line x1="537.5" y1="272.5" x2="537.5" y2="272.4" stroke="#a6a6a6" stroke-width="0.8"/>
<line x1="534.49" y1="272.5" x2="540.76" y2="272.5" stroke="#a6a6a6" stroke-width="0.8"/>
<line x1="537.5" y1="274.9" x2="537.5" y2="275.5" stroke="#a6a6a6" stroke-width="0.8"/>
<line x1="534.49" y1="275.5" x2="540.76" y2="275.5" stroke="#a6a6a6" stroke-width="0.8"/>
<rect x="529.02" y="272.4" width="17.21" height="2.5" fill="#f0e442" stroke="rgba(45,45,45,0.4)" stroke-width="0.7"/>
<line x1="529.02" y1="273.6" x2="546.23" y2="273.6" stroke="rgba(10,10,10,0.6)" stroke-width="1"/>
<circle cx="537.62" cy="273.6" r="0.75" fill="#000"/>
<text transform="translate(537.62,269.5) scale(0.95,1.09)" font-size="7" fill="#1c1c1c" text-anchor="middle">b</text>
<line x1="564.5" y1="186.5" x2="564.5" y2="210.9" stroke="#a6a6a6" stroke-width="0.8"/>
<line x1="561.64" y1="186.5" x2="567.91" y2="186.5" stroke="#a6a6a6" stroke-width="0.8"/>
<line x1="564.5" y1="229.1" x2="564.5" y2="233.5" stroke="#a6a6a6" stroke-width="0.8"/>
<line x1="561.64" y1="233.5" x2="567.91" y2="233.5" stroke="#a6a6a6" stroke-width="0.8"/>
<rect x="556.17" y="210.9" width="17.21" height="18.2" fill="#E69F00" stroke="rgba(45,45,45,0.5)" stroke-width="0.7"/>
<line x1="556.17" y1="226.8" x2="573.38" y2="226.8" stroke="rgba(20,20,20,0.58)" stroke-width="1"/>
<circle cx="564.78" cy="217.2" r="0.75" fill="#000"/>
<text transform="translate(564.78,183.6) scale(0.95,1.09)" font-size="7" fill="#1c1c1c" text-anchor="middle">a<tspan font-size="7.2" font-weight="bold" dy="-0.2">**</tspan></text>
<line x1="583.5" y1="253.5" x2="583.5" y2="254.7" stroke="#a6a6a6" stroke-width="0.8"/>
<line x1="580.44" y1="253.5" x2="586.71" y2="253.5" stroke="#a6a6a6" stroke-width="0.8"/>
<line x1="583.5" y1="262.1" x2="583.5" y2="266.5" stroke="#a6a6a6" stroke-width="0.8"/>
<line x1="580.44" y1="266.5" x2="586.71" y2="266.5" stroke="#a6a6a6" stroke-width="0.8"/>
<rect x="574.97" y="254.7" width="17.21" height="7.4" fill="#56B4E9" stroke="rgba(45,45,45,0.5)" stroke-width="0.7"/>
<line x1="574.97" y1="258.1" x2="592.18" y2="258.1" stroke="rgba(20,20,20,0.58)" stroke-width="1"/>
<circle cx="583.57" cy="259.2" r="0.75" fill="#000"/>
<text transform="translate(583.57,251.4) scale(0.95,1.09)" font-size="7" fill="#1c1c1c" text-anchor="middle">b<tspan font-size="7.2" font-weight="bold" dy="-0.2">**</tspan></text>
<line x1="593.47" y1="273.5" x2="611.28" y2="273.5" stroke="#333" stroke-width="1"/>
<circle cx="602.37" cy="273.4" r="0.75" fill="#000"/>
<circle cx="602.37" cy="267.2" r="0.6" fill="#222"/>
<text transform="translate(602.37,264.4) scale(0.95,1.09)" font-size="7" fill="#1c1c1c" text-anchor="middle">c</text>
<line x1="621.5" y1="268.5" x2="621.5" y2="270.1" stroke="#a6a6a6" stroke-width="0.8"/>
<line x1="618.04" y1="268.5" x2="624.3" y2="268.5" stroke="#a6a6a6" stroke-width="0.8"/>
<rect x="612.56" y="270.1" width="17.21" height="1.6" fill="#F0E442" stroke="rgba(45,45,45,0.5)" stroke-width="0.7"/>
<line x1="612.56" y1="270.9" x2="629.77" y2="270.9" stroke="rgba(20,20,20,0.58)" stroke-width="1"/>
<circle cx="621.17" cy="270.9" r="0.75" fill="#000"/>
<circle cx="621.17" cy="274.6" r="0.6" fill="#222"/>
<text transform="translate(621.17,264.9) scale(0.95,1.09)" font-size="7" fill="#1c1c1c" text-anchor="middle">c</text>
<line x1="458" y1="278" x2="459.3" y2="278" stroke="#a8a8a8" stroke-width="0.6"/>
<text transform="translate(457.4,280.6) scale(0.95,1.13)" font-size="7.4" fill="#2a2a2a" text-anchor="end" stroke="#2a2a2a" stroke-width="0.1">0</text>
<line x1="458" y1="248.6" x2="459.3" y2="248.6" stroke="#a8a8a8" stroke-width="0.6"/>
<text transform="translate(457.4,251.2) scale(0.95,1.13)" font-size="7.4" fill="#2a2a2a" text-anchor="end" stroke="#2a2a2a" stroke-width="0.1">25</text>
<line x1="458" y1="219.25" x2="459.3" y2="219.25" stroke="#a8a8a8" stroke-width="0.6"/>
<text transform="translate(457.4,221.85) scale(0.95,1.13)" font-size="7.4" fill="#2a2a2a" text-anchor="end" stroke="#2a2a2a" stroke-width="0.1">50</text>
<line x1="458" y1="189.9" x2="459.3" y2="189.9" stroke="#a8a8a8" stroke-width="0.6"/>
<text transform="translate(457.4,192.5) scale(0.95,1.13)" font-size="7.4" fill="#2a2a2a" text-anchor="end" stroke="#2a2a2a" stroke-width="0.1">75</text>
<line x1="458" y1="160.5" x2="459.3" y2="160.5" stroke="#a8a8a8" stroke-width="0.6"/>
<text transform="translate(457.4,163.1) scale(0.95,1.13)" font-size="7.4" fill="#2a2a2a" text-anchor="end" stroke="#2a2a2a" stroke-width="0.1">100</text>
<line x1="509.43" y1="283.9" x2="509.43" y2="285.4" stroke="#8a8a8a" stroke-width="0.6"/>
<text transform="translate(509.43,291.4) scale(0.95,1.13)" font-size="7.4" fill="#1c1c1c" text-anchor="middle" stroke="#2a2a2a" stroke-width="0.1">T0</text>
<line x1="592.97" y1="283.9" x2="592.97" y2="285.4" stroke="#8a8a8a" stroke-width="0.6"/>
<text transform="translate(592.97,291.4) scale(0.95,1.13)" font-size="7.4" fill="#1c1c1c" text-anchor="middle" stroke="#2a2a2a" stroke-width="0.1">TF</text>
<text x="640.9" y="163.6" font-size="10.6" font-weight="bold" fill="#000" text-anchor="end">f.</text>
<text transform="translate(441.7,254.1) rotate(-90) scale(0.99,1)" font-size="8.7" fill="#1c1c1c">SPW [Zn] (mg.L<tspan font-size="5.4" dy="-4.6">-1</tspan><tspan dy="4.6">)</tspan></text>
<text transform="translate(649.4,130.2) scale(1,1.1)" font-size="7.6" fill="#1c1c1c" text-anchor="start">Treatment</text>
<line x1="655.05" y1="135.6" x2="655.05" y2="137.2" stroke="#a0a0a0" stroke-width="0.6"/>
<line x1="655.05" y1="143.7" x2="655.05" y2="145.3" stroke="#a0a0a0" stroke-width="0.6"/>
<rect x="650.4" y="137.2" width="9.3" height="6.5" fill="#E69F00" stroke="rgba(40,40,40,0.75)" stroke-width="0.7"/>
<line x1="650.4" y1="140.45" x2="659.7" y2="140.45" stroke="rgba(20,20,20,0.7)" stroke-width="0.9"/>
<polygon points="655.05,138.65 656.85,140.45 655.05,142.25 653.25,140.45" fill="#000"/>
<text transform="translate(664.4,143.15) scale(1,1.1)" font-size="6.3" fill="#1c1c1c" text-anchor="start">CT</text>
<line x1="655.05" y1="147.5" x2="655.05" y2="149.1" stroke="#a0a0a0" stroke-width="0.6"/>
<line x1="655.05" y1="155.6" x2="655.05" y2="157.2" stroke="#a0a0a0" stroke-width="0.6"/>
<rect x="650.4" y="149.1" width="9.3" height="6.5" fill="#56B4E9" stroke="rgba(40,40,40,0.75)" stroke-width="0.7"/>
<line x1="650.4" y1="152.35" x2="659.7" y2="152.35" stroke="rgba(20,20,20,0.7)" stroke-width="0.9"/>
<polygon points="655.05,150.55 656.85,152.35 655.05,154.15 653.25,152.35" fill="#000"/>
<text transform="translate(664.4,155.05) scale(1,1.1)" font-size="6.3" fill="#1c1c1c" text-anchor="start">BC</text>
<line x1="655.05" y1="159.4" x2="655.05" y2="161" stroke="#a0a0a0" stroke-width="0.6"/>
<line x1="655.05" y1="167.5" x2="655.05" y2="169.1" stroke="#a0a0a0" stroke-width="0.6"/>
<rect x="650.4" y="161" width="9.3" height="6.5" fill="#009E73" stroke="rgba(40,40,40,0.75)" stroke-width="0.7"/>
<line x1="650.4" y1="164.25" x2="659.7" y2="164.25" stroke="rgba(20,20,20,0.7)" stroke-width="0.9"/>
<polygon points="655.05,162.45 656.85,164.25 655.05,166.05 653.25,164.25" fill="#000"/>
<text transform="translate(664.4,166.95) scale(1,1.1)" font-size="6.3" fill="#1c1c1c" text-anchor="start">BCM</text>
<line x1="655.05" y1="171.3" x2="655.05" y2="172.9" stroke="#a0a0a0" stroke-width="0.6"/>
<line x1="655.05" y1="179.4" x2="655.05" y2="181" stroke="#a0a0a0" stroke-width="0.6"/>
<rect x="650.4" y="172.9" width="9.3" height="6.5" fill="#F0E442" stroke="rgba(40,40,40,0.75)" stroke-width="0.7"/>
<line x1="650.4" y1="176.15" x2="659.7" y2="176.15" stroke="rgba(20,20,20,0.7)" stroke-width="0.9"/>
<polygon points="655.05,174.35 656.85,176.15 655.05,177.95 653.25,176.15" fill="#000"/>
<text transform="translate(664.4,178.85) scale(1,1.1)" font-size="6.3" fill="#1c1c1c" text-anchor="start">BCS</text>
</svg></body></html>
